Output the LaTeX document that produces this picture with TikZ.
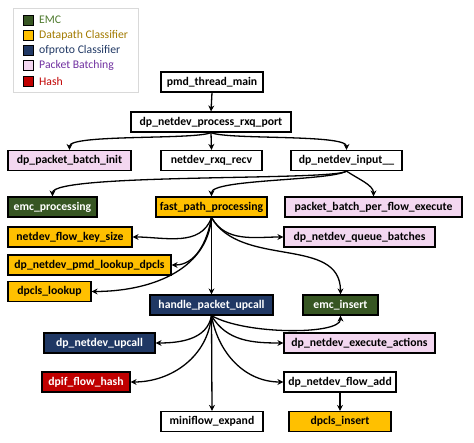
\documentclass[tikz,border=0pt]{standalone}
\usepackage{fontspec}
\setmainfont{Carlito}
\usetikzlibrary{arrows.meta}
\definecolor{emcg}{HTML}{375623}
\definecolor{dpy}{HTML}{FFC000}
\definecolor{ofb}{HTML}{203864}
\definecolor{pbp}{HTML}{F3D7F0}
\definecolor{hashr}{HTML}{C00000}
\definecolor{emct}{HTML}{4E7A2E}
\definecolor{dpt}{HTML}{A27A00}
\definecolor{pbt}{HTML}{7030A0}
\tikzset{
  fn/.style={draw=black, line width=1.2pt, minimum height=20pt, inner sep=0pt, font=\fontsize{11.7}{13}\selectfont\bfseries, text=black, fill=white},
  emcbox/.style={fn, fill=emcg, text=white},
  dpbox/.style={fn, fill=dpy},
  ofbox/.style={fn, fill=ofb, text=white},
  pbbox/.style={fn, fill=pbp},
  hbox/.style={fn, fill=hashr, text=white},
  conn/.style={line width=1.3pt, -{Stealth[length=6pt,width=6pt]}},
  legsq/.style={draw=black, line width=0.8pt, minimum width=10pt, minimum height=10pt, inner sep=0pt},
  legtxt/.style={anchor=west, inner sep=0pt, font=\fontsize{11.7}{13}\selectfont}
}
\begin{document}
\begin{tikzpicture}[x=1pt,y=1pt]
\useasboundingbox (0,0) rectangle (474,443);
% legend
\node[draw=black!15, line width=0.6pt, minimum width=125pt, minimum height=84pt, inner sep=0pt] (legend) at (75.5,393) {};
\node[legsq, fill=emcg] (l1) at (28.5,423) {};
\node[legtxt, text=emct] (t1) at (39,423) {EMC};
\node[legsq, fill=dpy] (l2) at (28.5,408) {};
\node[legtxt, text=dpt] (t2) at (39,408) {Datapath Classifier};
\node[legsq, fill=ofb] (l3) at (28.5,392.5) {};
\node[legtxt, text=ofb] (t3) at (39,392.5) {ofproto Classifier};
\node[legsq, fill=pbp] (l4) at (28.5,377.5) {};
\node[legtxt, text=pbt] (t4) at (39,377.5) {Packet Batching};
\node[legsq, fill=hashr] (l5) at (28.5,362) {};
\node[legtxt, text=hashr] (t5) at (39,362) {Hash};
% nodes
\node[fn, minimum width=102pt] (pmd) at (212,361) {pmd\_thread\_main};
\node[fn, minimum width=160pt] (rxq) at (211,321) {dp\_netdev\_process\_rxq\_port};
\node[pbbox, minimum width=123pt] (bi) at (69.5,282.5) {dp\_packet\_batch\_init};
\node[fn, minimum width=101pt] (rr) at (211.5,282.5) {netdev\_rxq\_recv};
\node[fn, minimum width=111pt] (inp) at (346.5,282.5) {dp\_netdev\_input\_\_};
\node[emcbox, minimum width=89pt] (emcp) at (52.5,236) {emc\_processing};
\node[dpbox, minimum width=111pt] (fast) at (211.5,236) {fast\_path\_processing};
\node[pbbox, minimum width=177pt] (pbe) at (373.5,236) {packet\_batch\_per\_flow\_execute};
\node[dpbox, minimum width=124pt] (fks) at (70,206) {netdev\_flow\_key\_size};
\node[pbbox, minimum width=151pt] (qb) at (359.5,206) {dp\_netdev\_queue\_batches};
\node[dpbox, minimum width=163pt] (lpd) at (89.5,178) {dp\_netdev\_pmd\_lookup\_dpcls};
\node[dpbox, minimum width=83pt] (dl) at (49.5,151.5) {dpcls\_lookup};
\node[ofbox, minimum width=123pt] (hpu) at (211.5,138) {handle\_packet\_upcall};
\node[emcbox, minimum width=75pt] (emci) at (340.5,138) {emc\_insert};
\node[ofbox, minimum width=111pt] (upc) at (99.5,100) {dp\_netdev\_upcall};
\node[pbbox, minimum width=151pt] (exa) at (359.5,100) {dp\_netdev\_execute\_actions};
\node[hbox, minimum width=88pt] (fh) at (86,61) {dpif\_flow\_hash};
\node[fn, minimum width=112pt] (fa) at (340,61) {dp\_netdev\_flow\_add};
\node[fn, minimum width=102pt] (mf) at (212,21.5) {miniflow\_expand};
\node[dpbox, minimum width=102pt] (di) at (340,21.5) {dpcls\_insert};
% connectors
\draw[conn] (pmd.south) -- (rxq.north);
\draw[conn] (rxq.south) .. controls (195,303) and (69.5,309) .. (bi.north);
\draw[conn] (rxq.south) -- (rr.north);
\draw[conn] (rxq.south) .. controls (227,303) and (346.5,309) .. (inp.north);
\draw[conn] (inp.south) .. controls (335,262) and (52.5,270) .. (emcp.north);
\draw[conn] (inp.south) .. controls (330,262) and (211.5,264) .. (fast.north);
\draw[conn] (inp.south) .. controls (358,264) and (373.5,258) .. (pbe.north);
\draw[conn] (fast.south) to[out=-110, in=0] (fks.east);
\draw[conn] (fast.south) to[out=-100, in=0] (lpd.east);
\draw[conn] (fast.south) to[out=-95, in=0] (dl.east);
\draw[conn] (fast.south) -- (hpu.north);
\draw[conn] (fast.south) to[out=-60, in=180] (qb.west);
\draw[conn] (fast.south) to[out=-60, in=90] (emci.north);
\draw[conn] (hpu.south) to[out=-100, in=0] (upc.east);
\draw[conn] (hpu.south) to[out=-95, in=0] (fh.east);
\draw[conn] (hpu.south) -- (mf.north);
\draw[conn] (hpu.south) .. controls (245,108) and (340.5,108) .. (emci.south);
\draw[conn] (hpu.south) to[out=-60, in=180] (exa.west);
\draw[conn] (hpu.south) to[out=-80, in=180] (fa.west);
\draw[conn] (fa.south) -- (di.north);
\end{tikzpicture}
\end{document}
